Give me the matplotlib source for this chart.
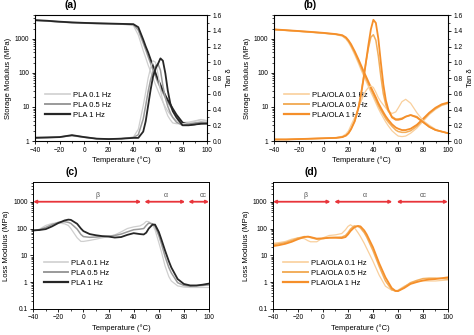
import matplotlib
matplotlib.use("Agg")
import matplotlib.pyplot as plt
from matplotlib.ticker import FixedLocator, NullFormatter, MultipleLocator, LogLocator

plt.rcParams['font.family'] = ['Liberation Sans', 'DejaVu Sans']

# ---- panel (a): PLA storage modulus + tan delta ----
T_a = [-40, -30, -20, -10, 0, 10, 20, 30, 40, 44, 48, 50, 52, 54, 56, 58, 60, 62,
       64, 66, 68, 70, 72, 75, 80, 85, 90, 95, 100]
Ea_01 = [3450, 3300, 3100, 2950, 2850, 2800, 2750, 2700, 2450, 1300, 450, 280, 170, 110, 70, 45,
         30, 20, 14, 10, 7.5, 6, 5, 4, 3.5, 3.6, 3.9, 4.3, 3.9]
Ea_05 = [3500, 3350, 3150, 3000, 2900, 2830, 2780, 2720, 2650, 1800, 750, 480, 300, 190, 120, 80,
         52, 36, 26, 19, 14, 10.5, 8, 5.5, 3.4, 3.3, 3.4, 3.6, 3.5]
Ea_1 = [3550, 3400, 3200, 3050, 2950, 2880, 2820, 2760, 2700, 2200, 950, 600, 400, 250, 160, 100,
        65, 45, 31, 22, 16, 12, 9, 6, 3.5, 3.0, 3.1, 3.3, 3.4]
tan_a_01 = [0.05, 0.05, 0.055, 0.065, 0.045, 0.03, 0.025, 0.03, 0.05, 0.15, 0.45, 0.62, 0.8,
            0.93, 1.02, 1.0, 0.85, 0.65, 0.5, 0.4, 0.32, 0.27, 0.23, 0.22, 0.22, 0.23, 0.25, 0.27, 0.26]
tan_a_05 = [0.045, 0.045, 0.05, 0.07, 0.05, 0.03, 0.025, 0.03, 0.045, 0.08, 0.28, 0.45, 0.63,
            0.78, 0.88, 0.95, 0.98, 0.9, 0.7, 0.55, 0.44, 0.36, 0.3, 0.24, 0.2, 0.21, 0.22, 0.23, 0.23]
tan_a_1 = [0.04, 0.045, 0.05, 0.075, 0.05, 0.03, 0.025, 0.03, 0.04, 0.04, 0.12, 0.25, 0.45,
           0.65, 0.82, 0.92, 0.98, 1.05, 1.02, 0.86, 0.64, 0.48, 0.38, 0.3, 0.2, 0.2, 0.21, 0.22, 0.22]

# ---- panel (b): PLA/OLA storage modulus + tan delta ----
T_b = [-40, -30, -20, -10, 0, 10, 15, 18, 20, 22, 25, 28, 30, 32, 34, 36, 38, 40, 42, 44, 46,
       48, 50, 52, 55, 58, 60, 63, 66, 70, 75, 80, 85, 90, 95, 100]
Eb_01 = [1850, 1750, 1650, 1550, 1450, 1330, 1200, 980, 780, 580, 340, 190, 125, 85, 58, 40, 27,
         19, 13, 9, 6.5, 4.8, 3.6, 2.8, 2.0, 1.6, 1.4, 1.35, 1.4, 1.7, 2.4, 3.8, 6, 8.5, 11, 12.5]
Eb_05 = [1880, 1780, 1680, 1580, 1480, 1360, 1250, 1050, 850, 640, 390, 220, 150, 100, 70, 48, 33,
         23, 16, 11, 8, 6, 4.5, 3.6, 2.7, 2.1, 1.9, 1.8, 1.8, 2.0, 2.7, 4.2, 6.5, 9, 11.5, 13]
Eb_1 = [1900, 1800, 1700, 1600, 1500, 1380, 1280, 1100, 900, 700, 430, 250, 170, 115, 80, 55, 38,
        27, 19, 13, 9.5, 7, 5.3, 4.2, 3.1, 2.5, 2.3, 2.1, 2.1, 2.3, 3, 4.5, 6.8, 9.5, 12, 13.5]
tan_b_01 = [0.02, 0.02, 0.025, 0.03, 0.035, 0.045, 0.06, 0.09, 0.13, 0.2, 0.3, 0.42, 0.5, 0.58,
            0.64, 0.68, 0.7, 0.68, 0.62, 0.55, 0.5, 0.46, 0.42, 0.38, 0.35, 0.37, 0.42, 0.5, 0.53,
            0.48, 0.36, 0.26, 0.2, 0.15, 0.12, 0.1]
tan_b_05 = [0.02, 0.02, 0.025, 0.03, 0.035, 0.04, 0.05, 0.07, 0.1, 0.15, 0.26, 0.43, 0.6, 0.8,
            1.0, 1.18, 1.32, 1.35, 1.28, 1.08, 0.82, 0.6, 0.46, 0.38, 0.31, 0.28, 0.28, 0.29, 0.31,
            0.33, 0.31, 0.24, 0.18, 0.14, 0.12, 0.1]
tan_b_1 = [0.02, 0.02, 0.025, 0.03, 0.035, 0.04, 0.05, 0.07, 0.1, 0.15, 0.25, 0.42, 0.58, 0.78,
           1.0, 1.22, 1.42, 1.54, 1.5, 1.3, 1.0, 0.72, 0.52, 0.4, 0.3, 0.27, 0.27, 0.28, 0.31,
           0.33, 0.3, 0.24, 0.18, 0.14, 0.12, 0.1]

# ---- panel (c): PLA loss modulus ----
T_c = [-40, -35, -30, -25, -20, -15, -12, -10, -5, -2, 0, 5, 10, 15, 20, 25, 30, 35, 40, 45,
       48, 50, 52, 55, 57, 60, 62, 65, 68, 70, 75, 80, 85, 90, 95, 100]
Ec_01 = [80, 95, 130, 155, 160, 150, 130, 100, 45, 33, 33, 36, 40, 45, 50, 58, 75, 100, 115, 125,
         150, 185, 180, 140, 90, 30, 14, 4, 1.6, 1.1, 0.72, 0.65, 0.63, 0.63, 0.63, 0.63]
Ec_05 = [85, 90, 110, 140, 170, 180, 170, 155, 95, 60, 50, 47, 48, 50, 52, 55, 62, 75, 90, 95,
         100, 130, 160, 150, 120, 55, 28, 9, 3.5, 2.2, 0.95, 0.75, 0.7, 0.72, 0.75, 0.78]
Ec_1 = [85, 88, 95, 120, 160, 200, 215, 210, 150, 100, 80, 62, 56, 52, 50, 46, 48, 58, 67, 62,
        60, 70, 100, 140, 140, 75, 40, 15, 6, 3.5, 1.3, 0.85, 0.75, 0.75, 0.8, 0.88]

# ---- panel (d): PLA/OLA loss modulus ----
T_d = [-40, -35, -30, -25, -20, -15, -12, -10, -5, 0, 5, 10, 15, 18, 20, 22, 25, 28, 30, 33, 35,
       40, 45, 50, 55, 58, 60, 65, 70, 75, 80, 85, 90, 95, 100]
Ed_01 = [28, 30, 33, 40, 45, 42, 35, 32, 32, 45, 55, 58, 65, 90, 120, 138, 110, 70, 50, 28, 18,
         6, 1.8, 0.7, 0.5, 0.48, 0.5, 0.7, 0.9, 1.05, 1.1, 1.1, 1.1, 1.15, 1.2]
Ed_05 = [25, 27, 30, 36, 44, 50, 49, 46, 40, 42, 46, 47, 48, 55, 70, 95, 125, 120, 105, 70, 48,
         15, 3.8, 1.1, 0.52, 0.46, 0.47, 0.65, 0.95, 1.15, 1.35, 1.4, 1.4, 1.35, 1.3]
Ed_1 = [22, 24, 27, 32, 40, 48, 50, 48, 42, 43, 45, 45, 44, 48, 60, 80, 110, 125, 120, 85, 60,
        20, 5, 1.5, 0.6, 0.47, 0.46, 0.6, 0.85, 1.0, 1.15, 1.25, 1.3, 1.4, 1.5]

# transition regions drawn on the loss modulus panels: (start, end, label, label x)
regions_c = [(-40, 46, 'β', 11), (48.5, 81, 'α', 65.5), (83.5, 100, 'cc', 95)]
regions_d = [(-40, 6, 'β', -14), (9, 55.5, 'α', 33.5), (59, 100, 'cc', 80.5)]

grey_cols = ['#cfcfcf', '#9a9a9a', '#262626']
orange_cols = ['#f9cf9c', '#f2ae5c', '#f58f2a']
widths = [0.9, 1.1, 1.3]
pla_labels = ['PLA 0.1 Hz', 'PLA 0.5 Hz', 'PLA 1 Hz']
ola_labels = ['PLA/OLA 0.1 Hz', 'PLA/OLA 0.5 Hz', 'PLA/OLA 1 Hz']

TICK = 4.8
LAB = 5.5


def style_x(ax):
    ax.set_xlim(-40, 100)
    ax.xaxis.set_major_locator(MultipleLocator(20))
    ax.xaxis.set_minor_locator(MultipleLocator(10))
    ax.set_xlabel('Temperature (°C)', fontsize=LAB, labelpad=2)
    ax.tick_params(which='both', labelsize=TICK, pad=1.5)
    ax.tick_params(which='major', length=2.5, width=0.6)
    ax.tick_params(which='minor', length=1.5, width=0.5)
    for s in ax.spines.values():
        s.set_linewidth(0.7)


def style_log(ax, ticks):
    ax.set_yscale('log')
    ax.yaxis.set_major_locator(FixedLocator(ticks))
    ax.set_yticklabels([('%g' % t) for t in ticks])
    ax.yaxis.set_minor_locator(LogLocator(base=10, subs=range(2, 10), numticks=20))
    ax.yaxis.set_minor_formatter(NullFormatter())


def storage_panel(pos, T, E_list, tan_list, cols, labels, title):
    ax = fig.add_axes(pos)
    for E, c, w in zip(E_list, cols, widths):
        ax.plot(T, E, color=c, lw=w)
    style_x(ax)
    style_log(ax, [1, 10, 100, 1000])
    ax.set_ylim(1, 5000)
    ax.set_ylabel('Storage Modulus (MPa)', fontsize=LAB, labelpad=2)
    ax2 = ax.twinx()
    for tn, c, w in zip(tan_list, cols, widths):
        ax2.plot(T, tn, color=c, lw=w)
    ax2.set_ylim(0, 1.6)
    ax2.yaxis.set_major_locator(MultipleLocator(0.2))
    ax2.yaxis.set_minor_locator(MultipleLocator(0.1))
    ax2.set_yticklabels(['%.1f' % v for v in ax2.get_yticks()])
    ax2.tick_params(which='both', labelsize=TICK, pad=1.5)
    ax2.tick_params(which='major', length=2.5, width=0.6)
    ax2.tick_params(which='minor', length=1.5, width=0.5)
    ax2.set_ylabel('Tan δ', fontsize=LAB, labelpad=3)
    hs = [plt.Line2D([], [], color=c, lw=w + 0.3) for c, w in zip(cols, widths)]
    ax.legend(hs, labels, loc='lower left', bbox_to_anchor=(0.02, 0.12), frameon=False,
              fontsize=5.5, handlelength=3.2, handletextpad=0.4, labelspacing=0.35)
    ax.text(0.21, 1.04, title, transform=ax.transAxes, fontsize=7.5, fontweight='bold',
            ha='center', va='bottom')
    return ax


def loss_panel(pos, T, E_list, cols, labels, title, regions):
    ax = fig.add_axes(pos)
    for E, c, w in zip(E_list, cols, widths):
        ax.plot(T, E, color=c, lw=w)
    style_x(ax)
    style_log(ax, [0.1, 1, 10, 100, 1000])
    ax.set_ylim(0.1, 5500)
    ax.set_ylabel('Loss Modulus (MPa)', fontsize=LAB, labelpad=2)
    for x0, x1, lab, xl in regions:
        ax.annotate('', xy=(x1, 1000), xytext=(x0, 1000),
                    arrowprops=dict(arrowstyle='<|-|>', color='#e8343a', lw=1.3,
                                    mutation_scale=4, shrinkA=0, shrinkB=0))
        ax.text(xl, 1300, lab, fontsize=5, ha='center', va='bottom', color='#555555')
    hs = [plt.Line2D([], [], color=c, lw=w + 0.3) for c, w in zip(cols, widths)]
    ax.legend(hs, labels, loc='lower left', bbox_to_anchor=(0.02, 0.12), frameon=False,
              fontsize=5.5, handlelength=3.2, handletextpad=0.4, labelspacing=0.35)
    ax.text(0.22, 1.04, title, transform=ax.transAxes, fontsize=7.5, fontweight='bold',
            ha='center', va='bottom')
    return ax


fig = plt.figure(figsize=(4.74, 3.35), dpi=100)

storage_panel([0.074, 0.579, 0.363, 0.376], T_a, [Ea_01, Ea_05, Ea_1],
              [tan_a_01, tan_a_05, tan_a_1], grey_cols, pla_labels, '(a)')
storage_panel([0.578, 0.579, 0.367, 0.376], T_b, [Eb_01, Eb_05, Eb_1],
              [tan_b_01, tan_b_05, tan_b_1], orange_cols, ola_labels, '(b)')
loss_panel([0.070, 0.078, 0.371, 0.379], T_c, [Ec_01, Ec_05, Ec_1], grey_cols,
           pla_labels, '(c)', regions_c)
loss_panel([0.576, 0.078, 0.369, 0.379], T_d, [Ed_01, Ed_05, Ed_1], orange_cols,
           ola_labels, '(d)', regions_d)

fig.savefig('out.png', dpi=100)
